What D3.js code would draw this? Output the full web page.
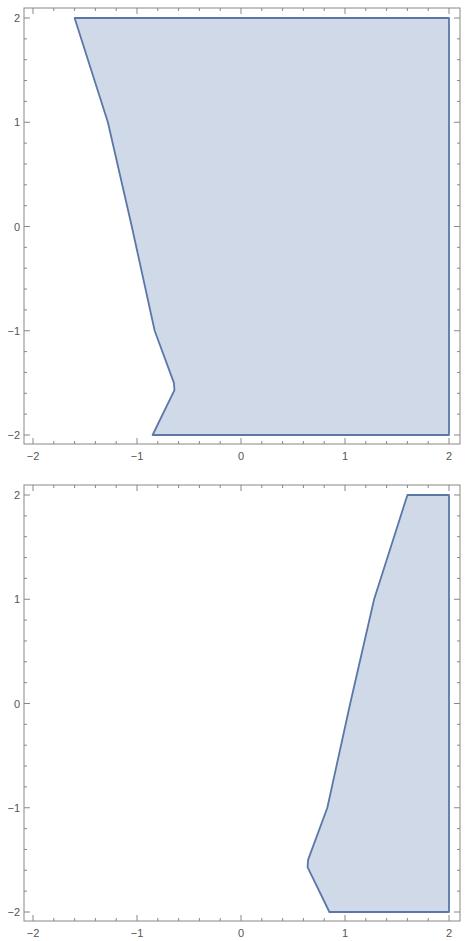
<!DOCTYPE html><html><head><script src="https://cdn.jsdelivr.net/npm/d3@7"></script>
<style>body{margin:0;background:#fff}text{font-family:"Liberation Sans",Arial,sans-serif;font-size:11px;fill:#555}</style></head><body>
<svg id="s" width="474" height="941"></svg>
<script>
const ticks=[-2,-1,0,1,2];
const topRegion=[[-1.6,2],[2,2],[2,-2],[-0.85,-2],[-0.64,-1.57],[-0.645,-1.5],[-0.83,-1],[-1.05,0],[-1.28,1],[-1.6,2]];
const bottomRegion=[[1.6,2],[2,2],[2,-2],[0.85,-2],[0.64,-1.57],[0.645,-1.5],[0.83,-1],[1.05,0],[1.28,1],[1.6,2]];
const svg=d3.select("#s");
function panel(top,data){
  const x=d3.scaleLinear().domain([-2,2]).range([33,449]);
  const y=d3.scaleLinear().domain([-2,2]).range([top+427,top+10]);
  const g=svg.append("g");
  g.append("path").attr("d",d3.line().x(d=>x(d[0])).y(d=>y(d[1]))(data)+"Z")
   .attr("fill","#cfd9e8").attr("stroke","#5a77a8").attr("stroke-width",1.8).attr("stroke-linejoin","round");
  const L=24,R=460,T=top,B=top+436;
  g.append("rect").attr("x",L).attr("y",T).attr("width",R-L).attr("height",B-T).attr("fill","none").attr("stroke","#888").attr("stroke-width",1);
  const minor=d3.range(-2,2.001,0.2);
  minor.forEach(v=>{
    const maj=Math.abs(v-Math.round(v))<1e-6, len=maj?6:3;
    g.append("line").attr("x1",x(v)).attr("x2",x(v)).attr("y1",B).attr("y2",B-len).attr("stroke","#888");
    g.append("line").attr("x1",x(v)).attr("x2",x(v)).attr("y1",T).attr("y2",T+len).attr("stroke","#888");
    g.append("line").attr("y1",y(v)).attr("y2",y(v)).attr("x1",L).attr("x2",L+len).attr("stroke","#888");
    g.append("line").attr("y1",y(v)).attr("y2",y(v)).attr("x1",R).attr("x2",R-len).attr("stroke","#888");
  });
  ticks.forEach(v=>{
    const lab=v<0?"\u2212"+(-v):""+v;
    g.append("text").attr("x",x(v)).attr("y",B+16).attr("text-anchor","middle").text(lab);
    g.append("text").attr("x",L-4).attr("y",y(v)+4).attr("text-anchor","end").text(lab);
  });
}
panel(8,topRegion);
panel(485,bottomRegion);
</script></body></html>
